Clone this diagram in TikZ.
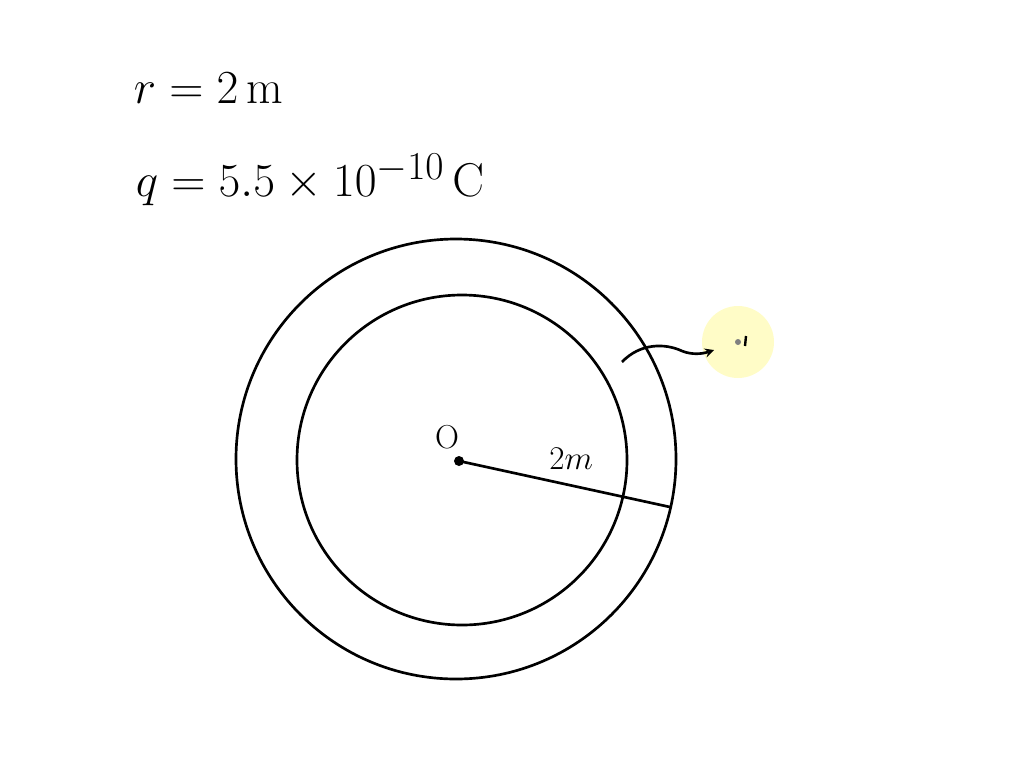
\documentclass[tikz,border=0pt]{standalone}
\usepackage{amsmath}
\usepackage{tikz}
\begin{document}
\begin{tikzpicture}[x=0.75pt,y=-0.75pt,>=stealth,line width=2pt]
 \tikzstyle{bigtext} = [font=\fontsize{24.88}{30}\selectfont,inner sep=0,anchor=west,scale=1.43]
 \tikzstyle{smalltext} = [font=\fontsize{24.88}{30}\selectfont,inner sep=0]
 \useasboundingbox (0,0) rectangle (1024,768);
 % given data
 \node[bigtext] (rval) at (132,88) {$r = 2\,\mathrm{m}$};
 \node[bigtext] (qval) at (134,180) {$q = 5.5\times10^{-10}\,\mathrm{C}$};

 % shell
 \coordinate (O) at (456,459);
 \coordinate (Oin) at (462,460);
 \draw (O) circle (220);
 \draw (Oin) circle (165);
 \fill (459,461) circle (5) coordinate (dot);
 \node[smalltext] (olab) at (447,437) {O};
 \coordinate (rim) at (670,507);
 \draw (dot) -- (rim) node[smalltext,pos=0.5,above,yshift=10,xshift=5] (rlab) {$2m$};

 % pointer
 \node[circle,fill=yellow!22,minimum size=54,inner sep=0] (hl) at (738,342) {};
 \fill[gray] (hl.center) circle (3);
 \draw[line width=1.8pt] (746,336) -- (745,346);
 \coordinate (p1) at (622,362);
 \draw[->] (p1) .. controls (640,343) and (665,343) .. (682,351) .. controls (692,355) and (702,354) .. (714,350);
\end{tikzpicture}
\end{document}
